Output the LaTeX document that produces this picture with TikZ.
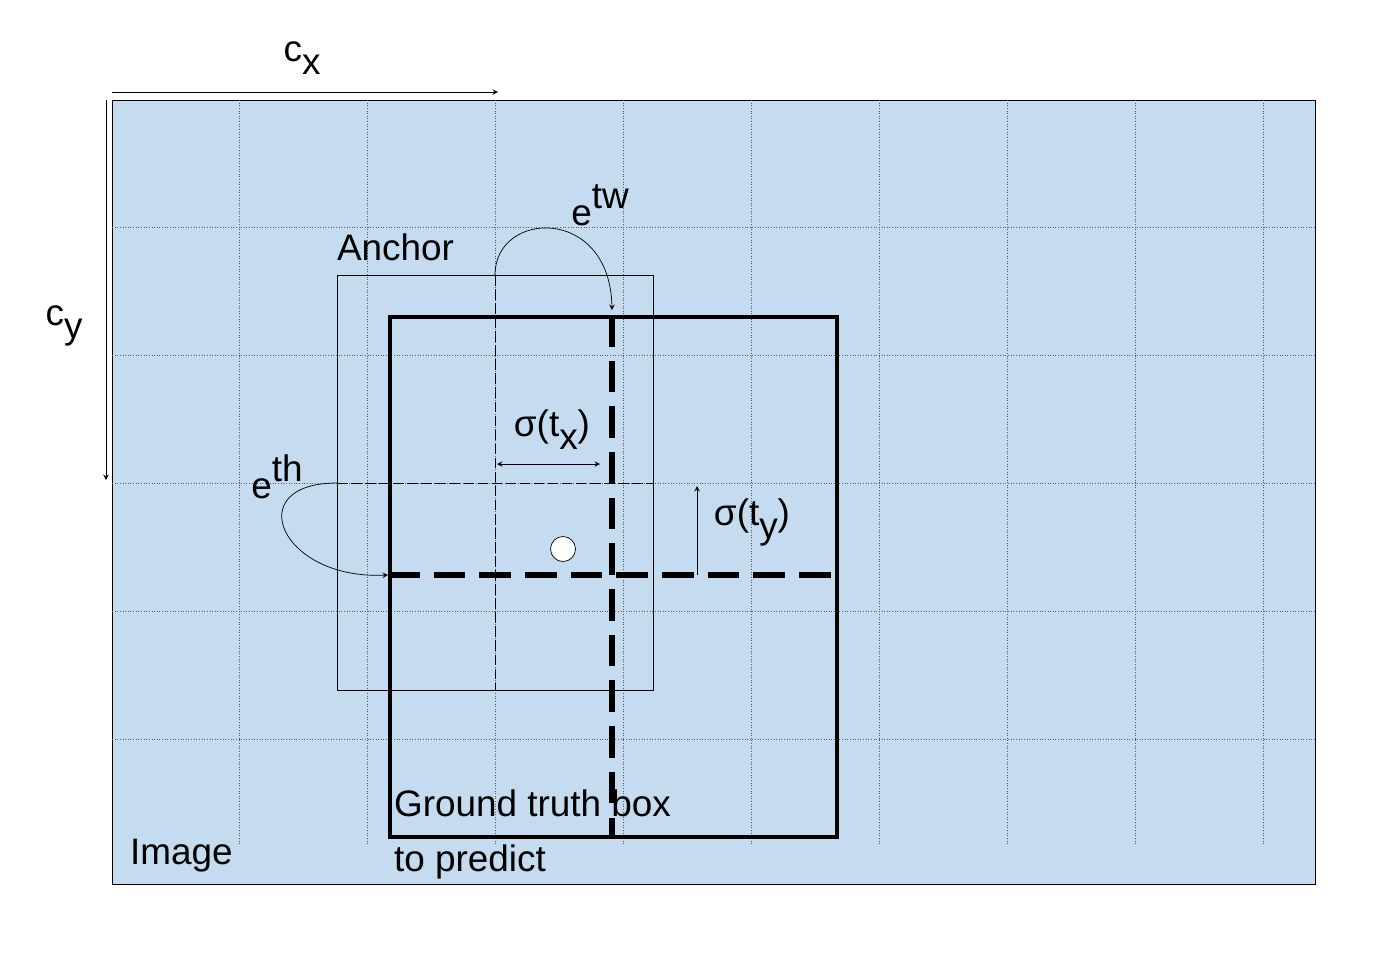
\documentclass[tikz,border=0pt]{standalone}
\usepackage{fontspec}
\setmainfont{Liberation Sans}
\usetikzlibrary{positioning}
\definecolor{imgblue}{HTML}{C5DBEF}
\newcommand{\sbx}[1]{\raisebox{-0.35em}{#1}}
\newcommand{\spx}[1]{\raisebox{0.45em}{#1}}
\begin{document}
\begin{tikzpicture}[x=0.02cm, y=-0.02cm,
      grid/.style={densely dotted, gray!70!black, line width=0.5pt},
      thick box/.style={line width=2.2pt},
      thick dash/.style={line width=3pt, dash pattern=on 18pt off 8pt},
      lbl/.style={font=\fontsize{21}{24}\selectfont, inner sep=1pt},
      ->, >=stealth,
      ]
      \useasboundingbox (0,0) rectangle (1376,968);

      % Bild und Raster
      \node[draw, fill=imgblue, minimum width=24.06cm, minimum height=15.68cm,
        inner sep=0pt, anchor=north west] (image) at (112,100) {};
      \foreach \gx in {239,367,495,623,751,879,1007,1135,1263}
        \draw[grid, -] (\gx,100) -- (\gx,845);
      \foreach \gy in {227,355,483,611,739}
        \draw[grid, -] (112,\gy) -- (1315,\gy);
      \node[lbl, anchor=west] (imagelbl) at (128,856) {Image};

      % Achsen
      \coordinate (cxend) at (498,92);
      \coordinate (cyend) at (106,480);
      \draw[thin] (112,92) -- (cxend);
      \draw[thin] (106,100) -- (cyend);
      \node[lbl] (cx) at (302,58) {c\sbx{x}};
      \node[lbl] (cy) at (64,326) {c\sbx{y}};

      % Anker
      \node[draw, thin, minimum width=6.32cm, minimum height=8.3cm, inner sep=0pt,
        anchor=north west] (anchor) at (337,275) {};
      \node[lbl, anchor=south west] (anchorlbl) at (335,263) {Anchor};
      \coordinate (ax) at (495,275);
      \coordinate (ay) at (337,483);
      \draw[dash pattern=on 6pt off 2pt, -] (ax) -- (495,690);
      \draw[dash pattern=on 6pt off 2pt, -] (ay) -- (653,483);

      % Ground truth
      \node[draw, thick box, minimum width=8.94cm, minimum height=10.4cm, inner sep=0pt,
        anchor=north west] (gt) at (388,315) {};
      \draw[thick dash, -] (612,315) -- (612,835);
      \draw[thick dash, -] (388,575) -- (835,575);
      \node[draw, fill=white, circle, minimum size=0.5cm, inner sep=0pt] (center) at (563,549) {};
      \node[lbl, anchor=north west, align=left, font=\fontsize{21}{31}\selectfont] (gtlbl) at (392,788) {Ground truth box\\to predict};

      % Transformationen
      \coordinate (txa) at (497,464);
      \coordinate (txb) at (600,464);
      \draw[<->, thin] (txa) -- (txb);
      \node[lbl] (tx) at (552,430) {σ(t\sbx{x})};
      \coordinate (tya) at (697,575);
      \coordinate (tyb) at (697,486);
      \draw[thin] (tya) -- (tyb);
      \node[lbl] (ty) at (752,522) {σ(t\sbx{y})};
      \draw[thin] (ax) .. controls (495,210) and (610,205) .. (612,310);
      \node[lbl] (tw) at (600,205) {e\spx{tw}};
      \draw[thin] (ay) .. controls (240,483) and (280,580) .. (388,575);
      \node[lbl] (th) at (277,477) {e\spx{th}};
\end{tikzpicture}
\end{document}
